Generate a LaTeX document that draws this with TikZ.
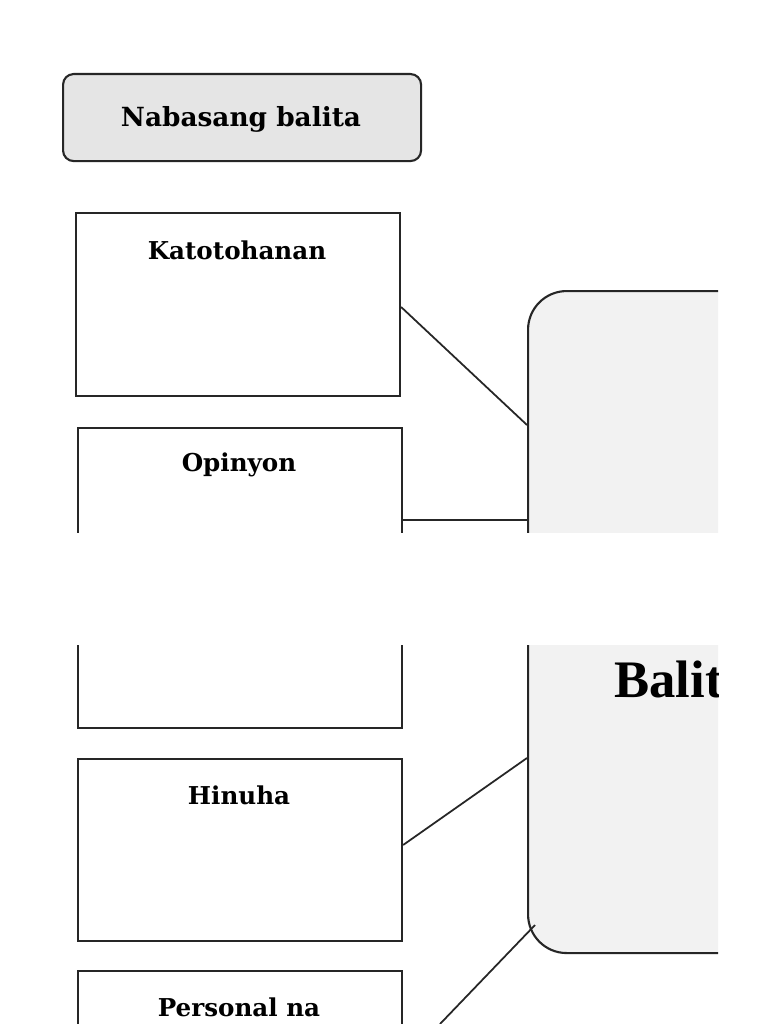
\documentclass[tikz,border=0pt]{standalone}
\usepackage{fontspec}
\setmainfont{DejaVu Serif}
\newfontfamily\bigfont{Liberation Serif}
\begin{document}
\begin{tikzpicture}[x=0.02cm,y=-0.02cm,
  box/.style={draw=black!85,line width=1.2pt,anchor=north west,inner sep=0pt},
  lbl/.style={font=\bfseries\fontsize{14}{16}\selectfont},
  conn/.style={draw=black!85,line width=1pt}]
\useasboundingbox (0,0) rectangle (768,1024);
\fill[white] (0,0) rectangle (768,1024);
\begin{scope}
\clip (0,0) rectangle (718,1024);
\node[box,fill=black!5,rounded corners=22pt,minimum width=400*0.02cm,minimum height=662*0.02cm] (big) at (527,290) {};
\node[font=\bigfont\bfseries\fontsize{30}{34}\selectfont,anchor=west,inner sep=0pt] (bt) at (614,679) {Balita};
\end{scope}
\node[box,fill=black!10,rounded corners=6pt,minimum width=358*0.02cm,minimum height=87*0.02cm] (title) at (62,73) {};
\node[lbl,font=\bfseries\fontsize{15}{17}\selectfont] (tt) at (241,119) {Nabasang balita};
\node[box,minimum width=324*0.02cm,minimum height=183*0.02cm] (kat) at (75,212) {};
\node[lbl] (katl) at (237,250) {Katotohanan};
\node[box,minimum width=324*0.02cm,minimum height=300*0.02cm] (op) at (77,427) {};
\node[lbl] (opl) at (239,465) {Opinyon};
\node[box,minimum width=324*0.02cm,minimum height=182*0.02cm] (hin) at (77,758) {};
\node[lbl] (hinl) at (239,795) {Hinuha};
\node[box,minimum width=324*0.02cm,minimum height=120*0.02cm] (per) at (77,970) {};
\node[lbl] (perl) at (239,1007) {Personal na};
\coordinate (b1) at (527,425);
\coordinate (b2) at (527,520);
\coordinate (b3) at (527,758);
\coordinate (b4) at (535,925);
\coordinate (p4) at (440,1024);
\draw[conn] (kat.east |- 0,307) -- (b1);
\draw[conn] (op.north east |- 0,520) -- (b2);
\draw[conn] (hin.east |- 0,845) -- (b3);
\draw[conn] (p4) -- (b4);
\fill[white] (0,533) rectangle (768,645);
\end{tikzpicture}
\end{document}
